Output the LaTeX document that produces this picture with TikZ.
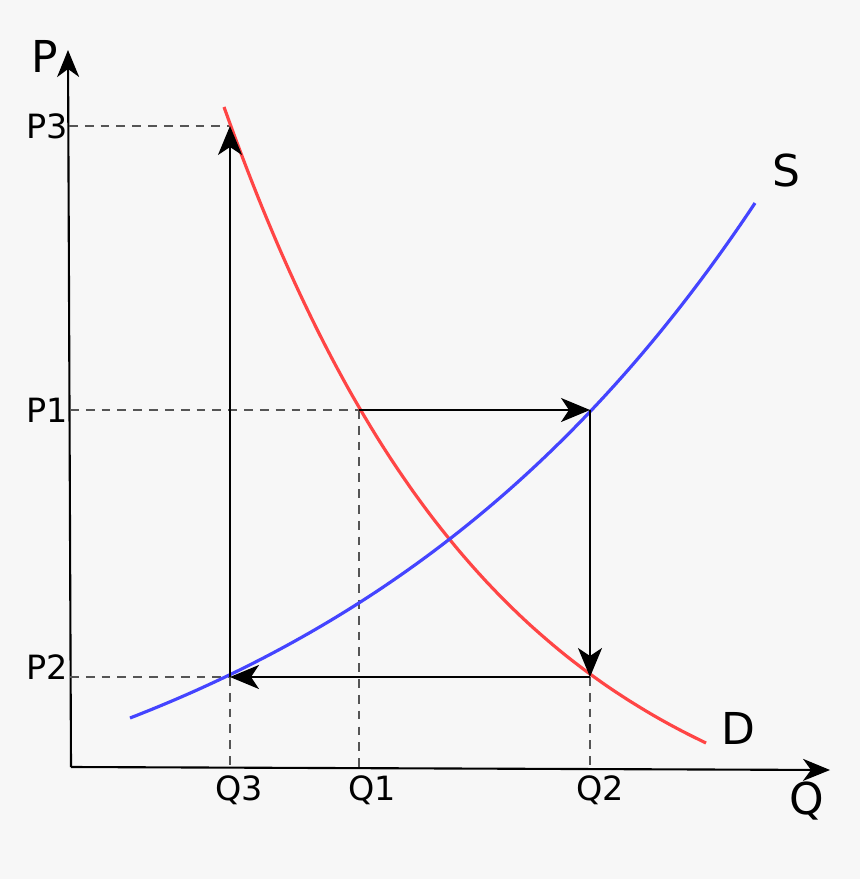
\documentclass[tikz,border=0pt]{standalone}
\usepackage{fontspec}
\setmainfont{DejaVu Sans}
\usetikzlibrary{arrows.meta}
\definecolor{sfondo}{HTML}{F7F7F7}
\definecolor{rosso}{HTML}{FF4545}
\definecolor{blu}{HTML}{4444FF}
\definecolor{grigio}{HTML}{555555}
\tikzset{
  asse/.style={-{Stealth[length=2.7mm,width=2.2mm,inset=0.8mm]},line width=0.6pt,black},
  freccia/.style={-{Stealth[length=2.9mm,width=2.4mm,inset=0.8mm]},line width=0.6pt,black},
  tratteggio/.style={grigio,line width=0.45pt,dash pattern=on 2.5pt off 2pt},
  curva/.style={line width=0.9pt},
  etic/.style={font=\fontsize{9.5}{11}\selectfont,inner sep=0pt},
  etigr/.style={font=\fontsize{12.5}{15}\selectfont,inner sep=0pt}
}
\begin{document}
\begin{tikzpicture}[x=0.01cm,y=-0.01cm]
    \fill[sfondo] (0,0) rectangle (860,879);
    \useasboundingbox (0,0) rectangle (860,879);

    % Assi
    \coordinate (O) at (71,767);
    \coordinate (Ptop) at (68,50);
    \coordinate (Qend) at (830,770);
    \draw[asse] (O) -- (Ptop);
    \draw[asse] (O) -- (Qend);
    \node[etigr] (P) at (45,56) {P};
    \node[etigr] (Q) at (807,801) {Q};

    % Punti sugli assi
    \coordinate (A3) at (69,126);
    \coordinate (A1) at (70,410);
    \coordinate (A2) at (70,677);
    \coordinate (B3) at (230,768);
    \coordinate (B1) at (359,768);
    \coordinate (B2) at (590,769);

    \node[etic] (P3) at (47,126) {P3};
    \node[etic] (P1) at (47,410) {P1};
    \node[etic] (P2) at (47,667) {P2};
    \node[etic] (Q3) at (239,790) {Q3};
    \node[etic] (Q1) at (372,790) {Q1};
    \node[etic] (Q2) at (600,790) {Q2};

    % Punti del ciclo
    \coordinate (E3) at (230,126);
    \coordinate (E1) at (359,410);
    \coordinate (E2) at (590,410);
    \coordinate (F2) at (590,677);
    \coordinate (F3) at (230,677);

    % Linee tratteggiate
    \draw[tratteggio] (A3) -- (E3);
    \draw[tratteggio] (A1) -- (E1);
    \draw[tratteggio] (A2) -- (F3);
    \draw[tratteggio] (F3) -- (B3);
    \draw[tratteggio] (E1) -- (B1);
    \draw[tratteggio] (F2) -- (B2);

    % Domanda e offerta
    \draw[curva,rosso] plot[domain=224:706,samples=80,smooth] (\x,{107+765*(1-exp(-0.0037*(\x-224)))});
    \draw[curva,blu] plot[domain=130:755,samples=80,smooth] (\x,{718-179.2*(exp(0.00217*(\x-130))-1)});
    \node[etigr] (S) at (786,170) {S};
    \node[etigr] (D) at (738,728) {D};

    % Frecce
    \draw[freccia] (F3) -- (E3);
    \draw[freccia] (E1) -- (E2);
    \draw[freccia] (E2) -- (F2);
    \draw[freccia] (F2) -- (F3);
\end{tikzpicture}
\end{document}
